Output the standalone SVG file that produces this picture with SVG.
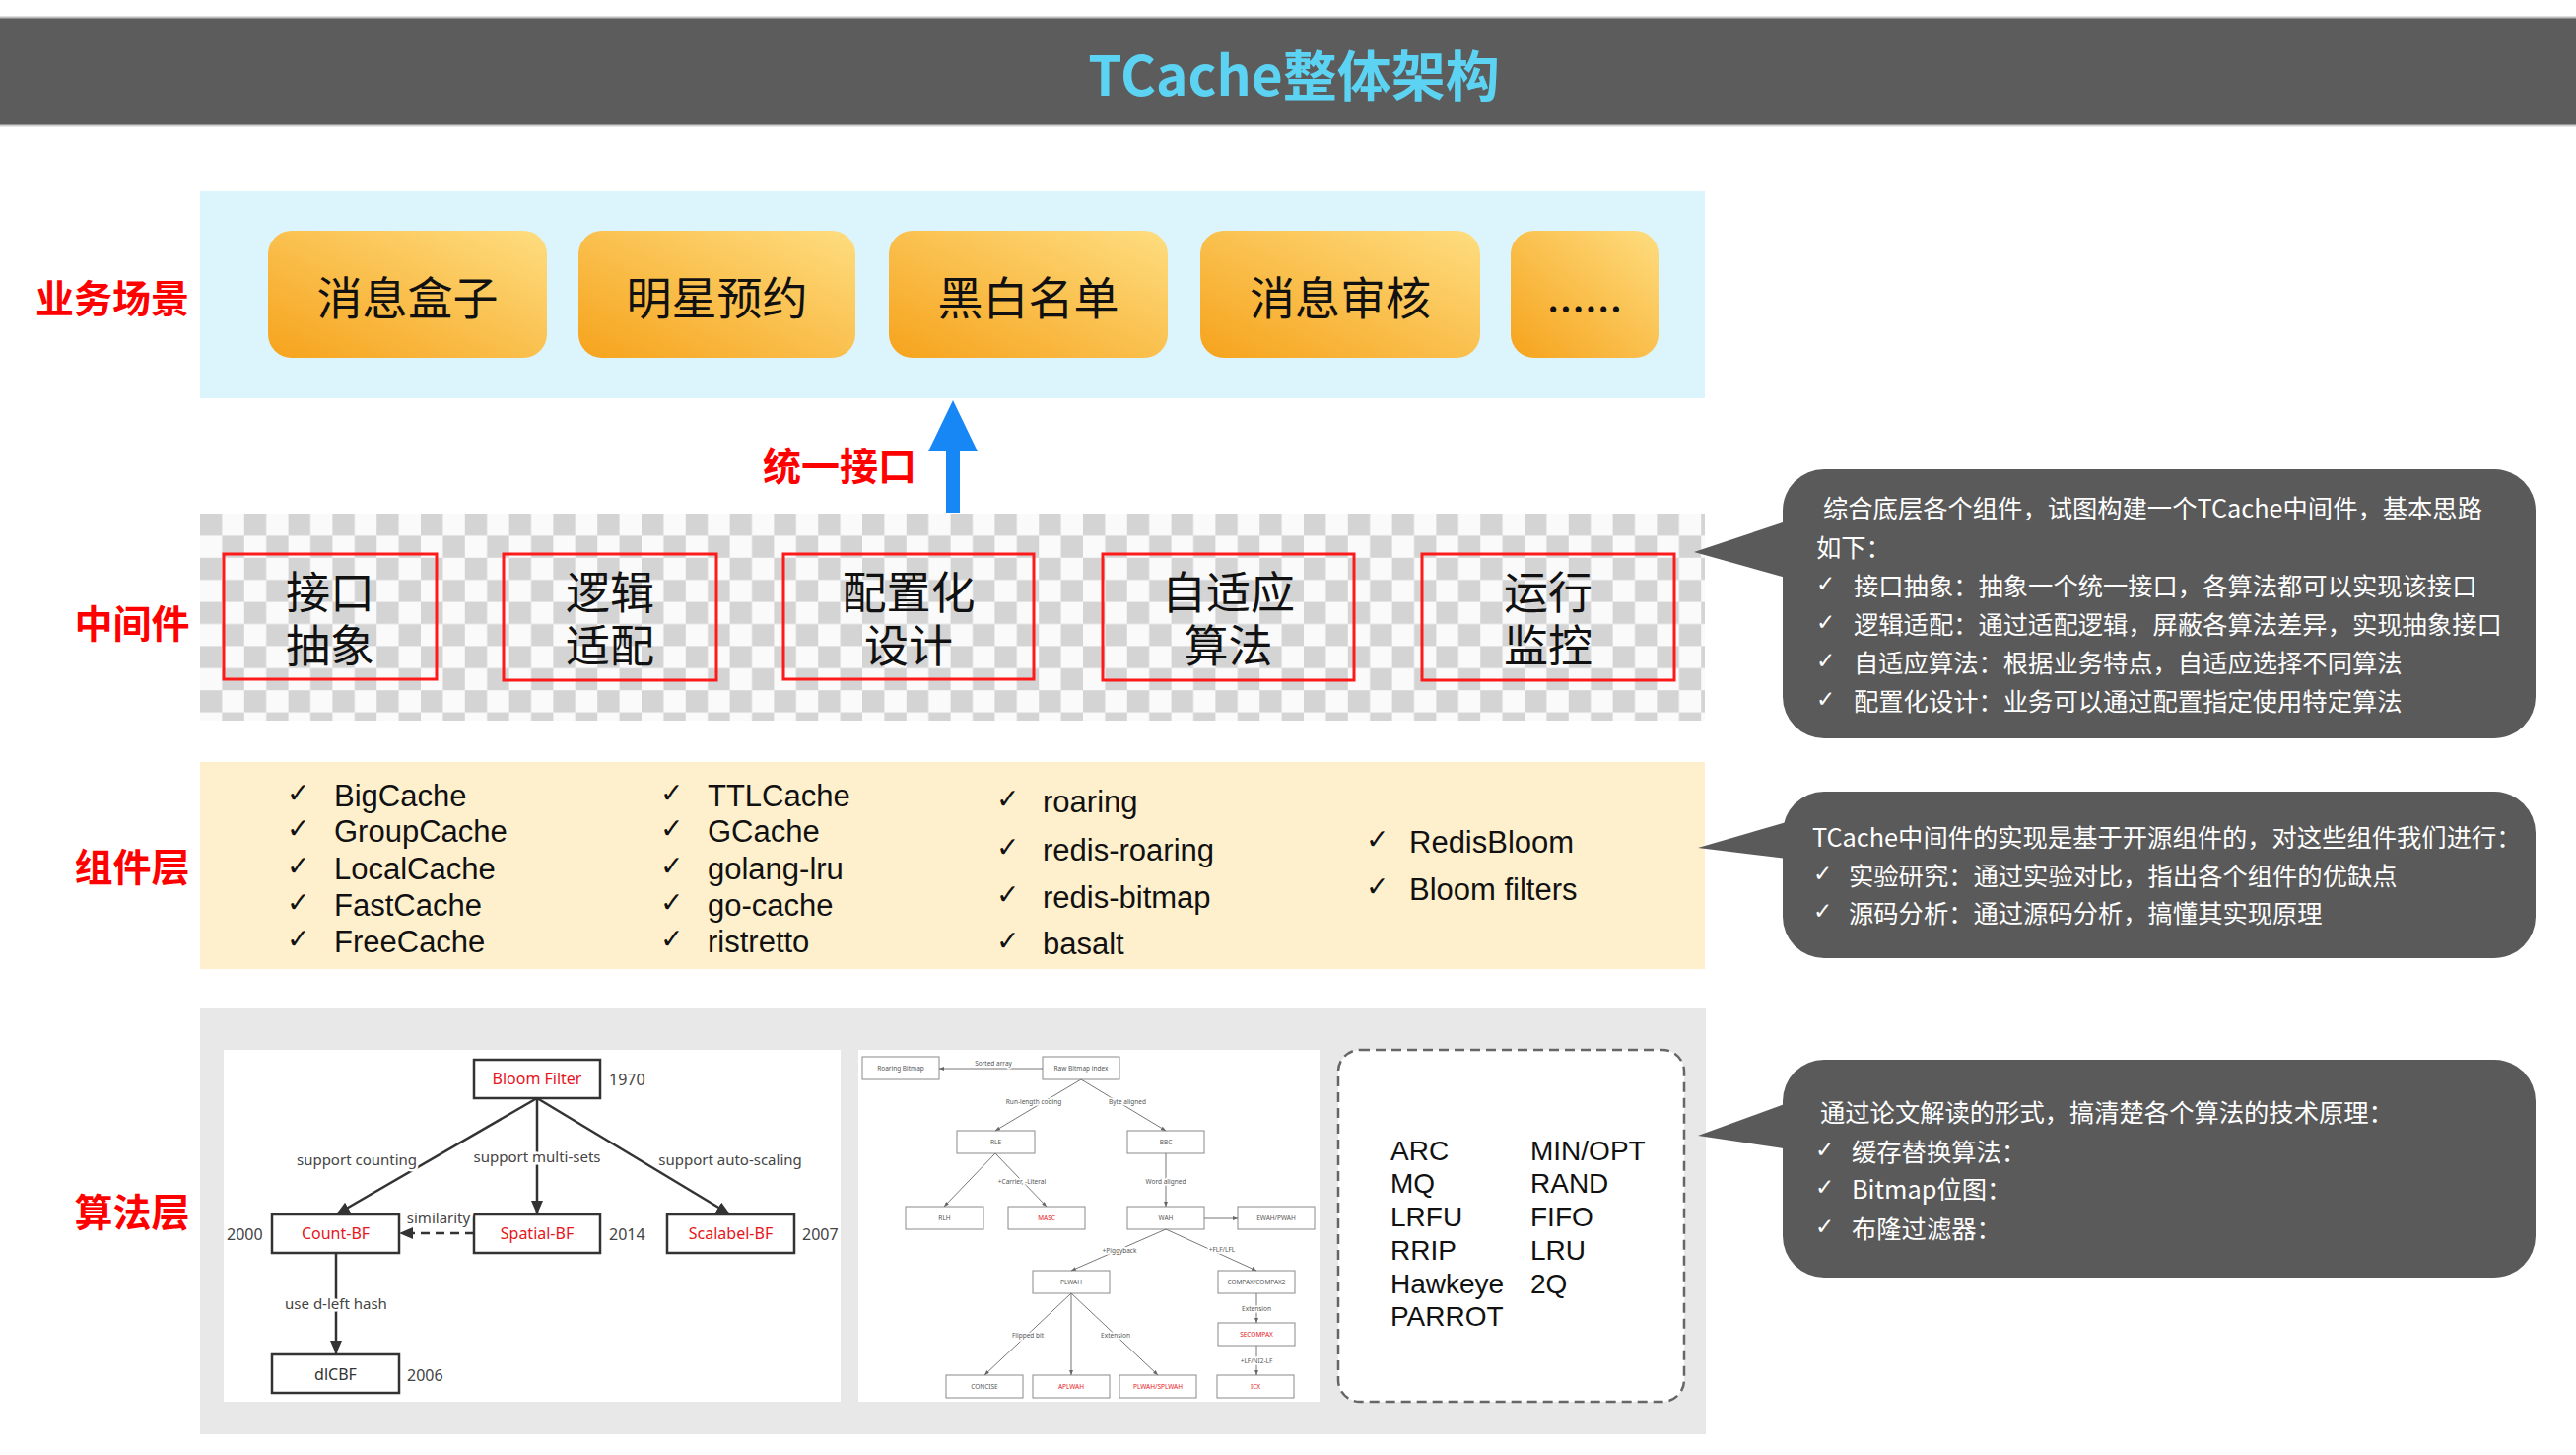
<svg xmlns="http://www.w3.org/2000/svg" width="2614" height="1476" viewBox="0 0 2614 1476">
<style>
.lay{font-family:"Noto Sans CJK SC","Liberation Sans",sans-serif;font-weight:700;font-size:39px;fill:#ff0000;dominant-baseline:central;text-anchor:middle}
.ob{font-family:"Noto Sans CJK SC",sans-serif;font-size:46px;fill:#111;dominant-baseline:central;text-anchor:middle}
.rb{fill:none;stroke:#ff1a1a;stroke-width:3}
.rt{font-family:"Noto Sans CJK SC",sans-serif;font-size:45px;fill:#111;dominant-baseline:central;text-anchor:middle}
.ck{font-family:"DejaVu Sans",sans-serif;font-size:28px;fill:#111;dominant-baseline:central}
.it{font-family:"Liberation Sans",Arial,sans-serif;font-size:31px;fill:#111;dominant-baseline:central}
.co{fill:#5a5a5a}
.ct{font-family:"Noto Sans CJK SC",sans-serif;font-size:25.3px;fill:#fff;dominant-baseline:central}
.cck{font-family:"DejaVu Sans",sans-serif;font-size:23px;fill:#fff;dominant-baseline:central}
.bfbox{fill:#fff;stroke:#333;stroke-width:2.5}
.bft{font-family:"Noto Sans","Open Sans",sans-serif;font-size:16px;fill:#e8141c;text-anchor:middle;dominant-baseline:central}
.bfk{font-family:"Noto Sans","Open Sans",sans-serif;font-size:16px;fill:#333;text-anchor:middle;dominant-baseline:central}
.bfy{font-family:"Noto Sans","Open Sans",sans-serif;font-size:16px;fill:#444;dominant-baseline:central}
.bfl{font-family:"Noto Sans","Open Sans",sans-serif;font-size:15px;fill:#444;text-anchor:middle;dominant-baseline:central;stroke:#fff;stroke-width:5px;paint-order:stroke}
.bfe{fill:none;stroke:#333;stroke-width:2.5}
.bmbox{fill:#fff;stroke:#8a8a8a;stroke-width:1}
.bmt{font-family:"Noto Sans","Open Sans",sans-serif;font-size:6.5px;fill:#555;text-anchor:middle;dominant-baseline:central}
.bmr{font-family:"Noto Sans","Open Sans",sans-serif;font-size:6.5px;fill:#e8141c;text-anchor:middle;dominant-baseline:central}
.bml{font-family:"Noto Sans","Open Sans",sans-serif;font-size:6.5px;fill:#555;text-anchor:middle;dominant-baseline:central;stroke:#fff;stroke-width:3px;paint-order:stroke}
.bme{fill:none;stroke:#777;stroke-width:1}
.al{font-family:"Liberation Sans",Arial,sans-serif;font-size:28px;fill:#111}
</style>
<defs>
<linearGradient id="og" x1="0" y1="1" x2="1" y2="0">
<stop offset="0" stop-color="#f6a31c"/>
<stop offset="1" stop-color="#fedd80"/>
</linearGradient>
<pattern id="checker" x="203" y="521" width="44.8" height="44.8" patternUnits="userSpaceOnUse">
<rect width="44.8" height="44.8" fill="#fafafa"/>
<rect width="22.4" height="22.4" fill="#d4d4d4"/>
<rect x="22.4" y="22.4" width="22.4" height="22.4" fill="#d4d4d4"/>
</pattern>
<marker id="ah" markerWidth="14" markerHeight="12" refX="14" refY="6" orient="auto" markerUnits="userSpaceOnUse">
<path d="M0,0 L14,6 L0,12 Z" fill="#333"/>
</marker>
<marker id="ahs" markerWidth="5" markerHeight="4" refX="5" refY="2" orient="auto" markerUnits="userSpaceOnUse">
<path d="M0,0 L5,2 L0,4 Z" fill="#666"/>
</marker>
</defs>

<rect width="2614" height="1476" fill="#fff"/>

<!-- title -->
<g id="title">
<rect x="0" y="17" width="2614" height="111" fill="#5c5c5c"/>
<line x1="0" y1="17.5" x2="2614" y2="17.5" stroke="#bdbdbd" stroke-width="2"/>
<line x1="0" y1="127.5" x2="2614" y2="127.5" stroke="#cfcfcf" stroke-width="2"/>
<text x="1313" y="73" font-family="Noto Sans CJK SC,sans-serif" font-weight="700" font-size="55" fill="#5cd3f2" text-anchor="middle" dominant-baseline="central">TCache整体架构</text>
</g>

<!-- layer backgrounds -->
<rect x="203" y="194" width="1527" height="210" fill="#dcf5fc"/>
<rect x="203" y="521" width="1527" height="210" fill="url(#checker)"/>
<rect x="203" y="773" width="1527" height="210" fill="#fff0cd"/>
<rect x="203" y="1023" width="1528" height="432" fill="#e8e8e8"/>

<!-- layer labels -->
<text class="lay" x="114" y="300">业务场景</text>
<text class="lay" x="134" y="630">中间件</text>
<text class="lay" x="134" y="877">组件层</text>
<text class="lay" x="134" y="1227">算法层</text>

<!-- business scenario nodes -->
<g id="biz-1"><rect x="272" y="234" width="283" height="129" rx="24" fill="url(#og)"/><text class="ob" x="413.5" y="299">消息盒子</text></g>
<g id="biz-2"><rect x="587" y="234" width="281" height="129" rx="24" fill="url(#og)"/><text class="ob" x="727.5" y="299">明星预约</text></g>
<g id="biz-3"><rect x="902" y="234" width="283" height="129" rx="24" fill="url(#og)"/><text class="ob" x="1043.5" y="299">黑白名单</text></g>
<g id="biz-4"><rect x="1218" y="234" width="284" height="129" rx="24" fill="url(#og)"/><text class="ob" x="1360" y="299">消息审核</text></g>
<g id="biz-5"><rect x="1533" y="234" width="150" height="129" rx="24" fill="url(#og)"/><text class="ob" x="1608" y="296" font-family="Liberation Sans,sans-serif" font-size="40">......</text></g>

<!-- unified interface arrow -->
<g id="unified-interface">
<path d="M960,520 L960,458 L942,458 L967,406 L992,458 L974,458 L974,520 Z" fill="#1787f5"/>
<text class="lay" x="852" y="470">统一接口</text>
</g>

<!-- middleware nodes -->
<g id="mw-1"><rect class="rb" x="227" y="562" width="216" height="127"/><text class="rt" x="335" y="598">接口<tspan x="335" dy="54">抽象</tspan></text></g>
<g id="mw-2"><rect class="rb" x="511" y="562" width="216" height="128"/><text class="rt" x="619" y="598">逻辑<tspan x="619" dy="54">适配</tspan></text></g>
<g id="mw-3"><rect class="rb" x="795" y="562" width="254" height="127"/><text class="rt" x="922" y="598">配置化<tspan x="922" dy="54">设计</tspan></text></g>
<g id="mw-4"><rect class="rb" x="1119" y="562" width="255" height="128"/><text class="rt" x="1246.5" y="598">自适应<tspan x="1246.5" dy="54">算法</tspan></text></g>
<g id="mw-5"><rect class="rb" x="1443" y="562" width="256" height="128"/><text class="rt" x="1571" y="598">运行<tspan x="1571" dy="54">监控</tspan></text></g>

<!-- component layer -->
<g id="components">
<text class="ck" x="291" y="804">✓</text><text class="it" x="339" y="807">BigCache</text>
<text class="ck" x="291" y="840">✓</text><text class="it" x="339" y="843">GroupCache</text>
<text class="ck" x="291" y="878">✓</text><text class="it" x="339" y="881">LocalCache</text>
<text class="ck" x="291" y="915">✓</text><text class="it" x="339" y="918">FastCache</text>
<text class="ck" x="291" y="952">✓</text><text class="it" x="339" y="955">FreeCache</text>
<text class="ck" x="670" y="804">✓</text><text class="it" x="718" y="807">TTLCache</text>
<text class="ck" x="670" y="840">✓</text><text class="it" x="718" y="843">GCache</text>
<text class="ck" x="670" y="878">✓</text><text class="it" x="718" y="881">golang-lru</text>
<text class="ck" x="670" y="915">✓</text><text class="it" x="718" y="918">go-cache</text>
<text class="ck" x="670" y="952">✓</text><text class="it" x="718" y="955">ristretto</text>
<text class="ck" x="1011" y="810">✓</text><text class="it" x="1058" y="813">roaring</text>
<text class="ck" x="1011" y="859">✓</text><text class="it" x="1058" y="862">redis-roaring</text>
<text class="ck" x="1011" y="907">✓</text><text class="it" x="1058" y="910">redis-bitmap</text>
<text class="ck" x="1011" y="954">✓</text><text class="it" x="1058" y="957">basalt</text>
<text class="ck" x="1386" y="851">✓</text><text class="it" x="1430" y="854">RedisBloom</text>
<text class="ck" x="1386" y="899">✓</text><text class="it" x="1430" y="902">Bloom filters</text>
</g>

<!-- bloom filter panel -->
<rect x="227" y="1065" width="626" height="357" fill="#fff"/>
<g id="bloom-filter"><rect class="bfbox" x="481" y="1075" width="128" height="39"/><text class="bft" x="545" y="1094">Bloom Filter</text><text class="bfy" x="618" y="1095">1970</text></g>
<g id="count-bf"><rect class="bfbox" x="276" y="1232" width="129" height="39"/><text class="bft" x="340.5" y="1251">Count-BF</text><text class="bfy" x="230" y="1252">2000</text></g>
<g id="spatial-bf"><rect class="bfbox" x="481" y="1232" width="128" height="39"/><text class="bft" x="545" y="1251">Spatial-BF</text><text class="bfy" x="618" y="1252">2014</text></g>
<g id="scalabel-bf"><rect class="bfbox" x="677" y="1232" width="129" height="39"/><text class="bft" x="741.5" y="1251">Scalabel-BF</text><text class="bfy" x="814" y="1252">2007</text></g>
<g id="dlcbf"><rect class="bfbox" x="276" y="1374" width="129" height="39"/><text class="bfk" x="340.5" y="1394">dlCBF</text><text class="bfy" x="413" y="1395">2006</text></g>

<!-- bitmap panel -->
<rect x="871" y="1065" width="468" height="357" fill="#fff"/>
<g id="bm-roaring"><rect class="bmbox" x="875" y="1072" width="78" height="23"/><text class="bmt" x="914" y="1083.5">Roaring Bitmap</text></g>
<g id="bm-raw"><rect class="bmbox" x="1058" y="1072" width="78" height="23"/><text class="bmt" x="1097" y="1083.5">Raw Bitmap index</text></g>
<g id="bm-rle"><rect class="bmbox" x="971" y="1147" width="79" height="23"/><text class="bmt" x="1010.5" y="1158.5">RLE</text></g>
<g id="bm-bbc"><rect class="bmbox" x="1144" y="1147" width="78" height="23"/><text class="bmt" x="1183" y="1158.5">BBC</text></g>
<g id="bm-rlh"><rect class="bmbox" x="919" y="1224" width="79" height="23"/><text class="bmt" x="958.5" y="1235.5">RLH</text></g>
<g id="bm-masc"><rect class="bmbox" x="1023" y="1224" width="78" height="23"/><text class="bmr" x="1062" y="1235.5">MASC</text></g>
<g id="bm-wah"><rect class="bmbox" x="1144" y="1224" width="78" height="23"/><text class="bmt" x="1183" y="1235.5">WAH</text></g>
<g id="bm-ewah"><rect class="bmbox" x="1256" y="1224" width="78" height="23"/><text class="bmt" x="1295" y="1235.5">EWAH/PWAH</text></g>
<g id="bm-plwah"><rect class="bmbox" x="1048" y="1289" width="78" height="23"/><text class="bmt" x="1087" y="1300.5">PLWAH</text></g>
<g id="bm-compax"><rect class="bmbox" x="1236" y="1289" width="78" height="23"/><text class="bmt" x="1275" y="1300.5">COMPAX/COMPAX2</text></g>
<g id="bm-secompax"><rect class="bmbox" x="1236" y="1342" width="78" height="23"/><text class="bmr" x="1275" y="1353.5">SECOMPAX</text></g>
<g id="bm-concise"><rect class="bmbox" x="960" y="1395" width="78" height="23"/><text class="bmt" x="999" y="1406.5">CONCISE</text></g>
<g id="bm-aplwah"><rect class="bmbox" x="1048" y="1395" width="78" height="23"/><text class="bmr" x="1087" y="1406.5">APLWAH</text></g>
<g id="bm-splwah"><rect class="bmbox" x="1136" y="1395" width="78" height="23"/><text class="bmr" x="1175" y="1406.5">PLWAH/SPLWAH</text></g>
<g id="bm-icx"><rect class="bmbox" x="1235" y="1395" width="78" height="23"/><text class="bmr" x="1274" y="1406.5">ICX</text></g>

<!-- cache algorithms box -->
<g id="cache-algos">
<rect x="1358" y="1065" width="351" height="357" rx="22" fill="#fff" stroke="#666" stroke-width="2.5" stroke-dasharray="10 6"/>
<text class="al" x="1411" y="1177">ARC</text>
<text class="al" x="1411" y="1210">MQ</text>
<text class="al" x="1411" y="1244">LRFU</text>
<text class="al" x="1411" y="1278">RRIP</text>
<text class="al" x="1411" y="1312">Hawkeye</text>
<text class="al" x="1411" y="1345">PARROT</text>
<text class="al" x="1553" y="1177">MIN/OPT</text>
<text class="al" x="1553" y="1210">RAND</text>
<text class="al" x="1553" y="1244">FIFO</text>
<text class="al" x="1553" y="1278">LRU</text>
<text class="al" x="1553" y="1312">2Q</text>
</g>

<!-- connectors -->
<g id="connectors">
<line class="bfe" x1="545" y1="1114" x2="341" y2="1232" marker-end="url(#ah)"/>
<line class="bfe" x1="545" y1="1114" x2="545" y2="1232" marker-end="url(#ah)"/>
<line class="bfe" x1="545" y1="1114" x2="741" y2="1232" marker-end="url(#ah)"/>
<line class="bfe" x1="481" y1="1251" x2="405" y2="1251" stroke-dasharray="9 6" marker-end="url(#ah)"/>
<line class="bfe" x1="341" y1="1271" x2="341" y2="1374" marker-end="url(#ah)"/>
<text class="bfl" x="362" y="1176" stroke-width="0">support counting</text>
<text class="bfl" x="545" y="1173">support multi-sets</text>
<text class="bfl" x="741" y="1176" stroke-width="0">support auto-scaling</text>
<text class="bfl" x="445" y="1235" stroke-width="0">similarity</text>
<text class="bfl" x="341" y="1322">use d-left hash</text>

<line class="bme" x1="1058" y1="1084" x2="953" y2="1084" marker-end="url(#ahs)"/>
<line class="bme" x1="1097" y1="1095" x2="1010" y2="1147" marker-end="url(#ahs)"/>
<line class="bme" x1="1097" y1="1095" x2="1183" y2="1147" marker-end="url(#ahs)"/>
<line class="bme" x1="1010" y1="1170" x2="958" y2="1224" marker-end="url(#ahs)"/>
<line class="bme" x1="1010" y1="1170" x2="1062" y2="1224" marker-end="url(#ahs)"/>
<line class="bme" x1="1183" y1="1170" x2="1183" y2="1224" marker-end="url(#ahs)"/>
<line class="bme" x1="1222" y1="1236" x2="1256" y2="1236" marker-end="url(#ahs)"/>
<line class="bme" x1="1183" y1="1247" x2="1087" y2="1289" marker-end="url(#ahs)"/>
<line class="bme" x1="1183" y1="1247" x2="1275" y2="1289" marker-end="url(#ahs)"/>
<line class="bme" x1="1087" y1="1312" x2="999" y2="1395" marker-end="url(#ahs)"/>
<line class="bme" x1="1087" y1="1312" x2="1087" y2="1395" marker-end="url(#ahs)"/>
<line class="bme" x1="1087" y1="1312" x2="1175" y2="1395" marker-end="url(#ahs)"/>
<line class="bme" x1="1275" y1="1312" x2="1275" y2="1342" marker-end="url(#ahs)"/>
<line class="bme" x1="1275" y1="1365" x2="1275" y2="1395" marker-end="url(#ahs)"/>
<text class="bml" x="1008" y="1078" stroke-width="0">Sorted array</text>
<text class="bml" x="1049" y="1117">Run-length coding</text>
<text class="bml" x="1144" y="1117">Byte aligned</text>
<text class="bml" x="1037" y="1198">+Carrier, -Literal</text>
<text class="bml" x="1183" y="1198">Word aligned</text>
<text class="bml" x="1136" y="1268">+Piggyback</text>
<text class="bml" x="1240" y="1267">+FLF/LFL</text>
<text class="bml" x="1043" y="1354">Flipped bit</text>
<text class="bml" x="1132" y="1354">Extension</text>
<text class="bml" x="1275" y="1327">Extension</text>
<text class="bml" x="1275" y="1380">+LF/NI2-LF</text>
</g>

<!-- callouts -->
<g id="callout-middleware">
<rect class="co" x="1809" y="476" width="764" height="273" rx="42"/>
<polygon class="co" points="1719,560 1830,523 1830,591"/>
<text class="ct" x="1850" y="514">综合底层各个组件，试图构建一个TCache中间件，基本思路</text>
<text class="ct" x="1843" y="554">如下：</text>
<text class="cck" x="1843" y="592">✓</text><text class="ct" x="1881" y="593">接口抽象：抽象一个统一接口，各算法都可以实现该接口</text>
<text class="cck" x="1843" y="631">✓</text><text class="ct" x="1881" y="632">逻辑适配：通过适配逻辑，屏蔽各算法差异，实现抽象接口</text>
<text class="cck" x="1843" y="670">✓</text><text class="ct" x="1881" y="671">自适应算法：根据业务特点，自适应选择不同算法</text>
<text class="cck" x="1843" y="709">✓</text><text class="ct" x="1881" y="710">配置化设计：业务可以通过配置指定使用特定算法</text>
</g>
<g id="callout-components">
<rect class="co" x="1809" y="803" width="764" height="169" rx="42"/>
<polygon class="co" points="1723,860 1830,829 1830,873"/>
<text class="ct" x="1839" y="848">TCache中间件的实现是基于开源组件的，对这些组件我们进行：</text>
<text class="cck" x="1840" y="886">✓</text><text class="ct" x="1876" y="887">实验研究：通过实验对比，指出各个组件的优缺点</text>
<text class="cck" x="1840" y="924">✓</text><text class="ct" x="1876" y="925">源码分析：通过源码分析，搞懂其实现原理</text>
</g>
<g id="callout-algorithms">
<rect class="co" x="1809" y="1075" width="764" height="221" rx="42"/>
<polygon class="co" points="1723,1152 1830,1113 1830,1168"/>
<text class="ct" x="1847" y="1127">通过论文解读的形式，搞清楚各个算法的技术原理：</text>
<text class="cck" x="1842" y="1166">✓</text><text class="ct" x="1879" y="1167">缓存替换算法：</text>
<text class="cck" x="1842" y="1204">✓</text><text class="ct" x="1879" y="1205">Bitmap位图：</text>
<text class="cck" x="1842" y="1244">✓</text><text class="ct" x="1879" y="1245">布隆过滤器：</text>
</g>
</svg>
